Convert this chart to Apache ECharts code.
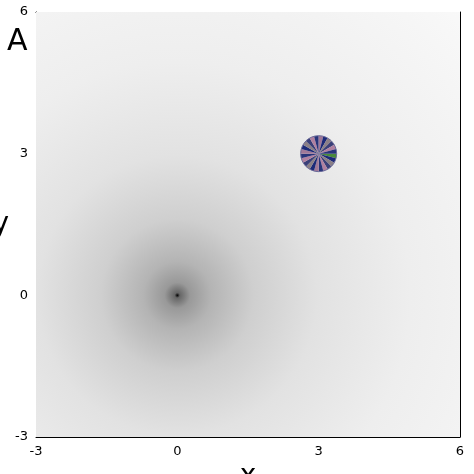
<!DOCTYPE html>
<html><head><meta charset="utf-8">
<script src="https://cdn.jsdelivr.net/npm/echarts@6/dist/echarts.min.js"></script>
<style>html,body{margin:0;background:#fff}#c{width:474px;height:474px}</style>
</head><body><div id="c"></div>
<script>
const xTicks = [-3, 0, 3, 6];
const yTicks = [-3, 0, 3, 6];
const fieldCenter = [[0, 0]];
const marker = [[3, 3]];
const spokeColors = ["#a07898", "#1c2a78", "#8a7f86", "#3a3f78", "#b080a0", "#28347a"];
const spokeCount = 24;

const myChart = echarts.init(document.getElementById("c"));
const axisBase = {
  type: "value", min: -3, max: 6, interval: 3,
  axisLine: { show: true, onZero: false, lineStyle: { color: "#000" } },
  axisTick: { show: true, inside: true, length: 5, lineStyle: { color: "#000" } },
  splitLine: { show: false },
  axisLabel: { color: "#000", fontSize: 13, fontFamily: "DejaVu Sans" }
};
const option = {
  animation: false,
  title: { text: "A", left: 2, top: 22, textStyle: { fontSize: 30, fontWeight: "normal", color: "#000", fontFamily: "DejaVu Sans" } },
  grid: { left: 36, right: 14, top: 12, bottom: 37, containLabel: false, outerBoundsMode: "none" },
  xAxis: [
    Object.assign({}, axisBase, { name: "x", nameLocation: "middle", nameGap: 24, nameTextStyle: { fontSize: 28, color: "#000", fontFamily: "DejaVu Sans" } }),
    Object.assign({}, axisBase, { position: "top", axisLabel: { show: false } })
  ],
  yAxis: [
    Object.assign({}, axisBase, { name: "y", nameLocation: "middle", nameGap: 24, nameRotate: 0, nameTextStyle: { fontSize: 28, color: "#000", fontFamily: "DejaVu Sans" } }),
    Object.assign({}, axisBase, { position: "right", axisLabel: { show: false } })
  ],
  series: [
    {
      type: "custom", data: fieldCenter, z: 1,
      renderItem: function (params, api) {
        const c = api.coord([api.value(0), api.value(1)]);
        const cs = params.coordSys;
        const r = api.size([9, 9])[0];
        return {
          type: "rect",
          shape: { x: cs.x, y: cs.y, width: cs.width, height: cs.height },
          style: {
            fill: {
              type: "radial", x: c[0], y: c[1], r: r, global: true,
              colorStops: [
                { offset: 0, color: "#000" },
                { offset: 0.006, color: "#666" },
                { offset: 0.03, color: "#999" },
                { offset: 0.08, color: "#b4b4b4" },
                { offset: 0.18, color: "#cfcfcf" },
                { offset: 0.33, color: "#e2e2e2" },
                { offset: 0.55, color: "#eeeeee" },
                { offset: 1, color: "#fafafa" }
              ]
            }
          }
        };
      }
    },
    {
      type: "custom", data: marker, z: 3,
      renderItem: function (params, api) {
        const c = api.coord([api.value(0), api.value(1)]);
        const children = [];
        const step = Math.PI * 2 / spokeCount;
        for (let i = 0; i < spokeCount; i++) {
          children.push({
            type: "sector",
            shape: { cx: c[0], cy: c[1], r0: 0, r: 18, startAngle: i * step, endAngle: (i + 1) * step },
            style: { fill: i === 0 ? "#4a8a3a" : spokeColors[i % spokeColors.length] }
          });
        }
        children.push({ type: "circle", shape: { cx: c[0], cy: c[1], r: 18 }, style: { fill: "none", stroke: "#6a6a9a", lineWidth: 1 } });
        return { type: "group", children: children };
      }
    }
  ]
};
myChart.setOption(option);
window.addEventListener("resize", function () { myChart.resize(); });
</script></body></html>
